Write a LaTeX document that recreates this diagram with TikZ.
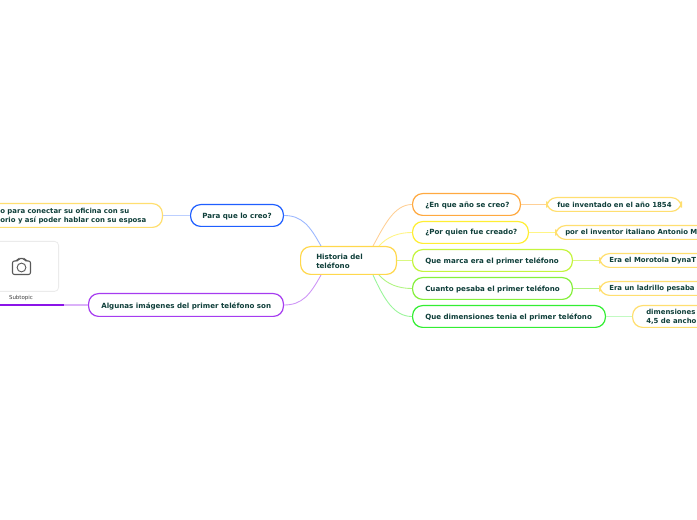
\documentclass[tikz,border=0pt]{standalone}
\usepackage{fontspec}
\setmainfont{DejaVu Sans}
\usetikzlibrary{calc}
\definecolor{txt}{HTML}{0F3F3A}
\definecolor{cRoot}{HTML}{FFD84D}
\definecolor{cAns}{HTML}{FFDF70}
\definecolor{cO}{HTML}{FFA940}
\definecolor{cY}{HTML}{FFEE33}
\definecolor{cL}{HTML}{C4F53D}
\definecolor{cG}{HTML}{86F03C}
\definecolor{cB}{HTML}{33EE33}
\definecolor{cBlue}{HTML}{1F5FFF}
\definecolor{cPur}{HTML}{A63CF0}
\definecolor{cDeep}{HTML}{8B14E8}
\tikzset{
  x=0.75pt,y=-0.75pt,
  topicbox/.style={draw=#1,line width=0.9pt,fill=white,rounded corners=7.5pt,inner sep=0pt,anchor=north west},
  link/.style={draw=#1,line width=0.65pt},
  thicklink/.style={draw=#1,line width=1.4pt},
}
\newcommand{\tbox}[6]{% name colour x1 y1 x2 y2
  \pgfmathsetmacro{\wdd}{(#5-#3)*0.75-0.9}\pgfmathsetmacro{\htt}{(#6-#4)*0.75-0.9}
  \node[topicbox=#2,minimum width=\wdd pt,minimum height=\htt pt] (#1) at (#3,#4) {};
}
\begin{document}
\begin{tikzpicture}
\useasboundingbox (0,0) rectangle (697,520);
\clip (0,0) rectangle (697,520);
\fill[white] (0,0) rectangle (697,520);
\tbox{root}{cRoot}{300}{246}{397}{275}
\tbox{q1}{cO}{412}{193}{521}{216}
\tbox{q2}{cY}{412}{221}{529}{244}
\tbox{q3}{cL}{412}{249}{573}{272}
\tbox{q4}{cG}{412}{277}{573}{300}
\tbox{q5}{cB}{412}{305}{606}{328}
\tbox{a1}{cAns}{546}{197}{682}{212}
\tbox{a2}{cAns}{555}{225}{730}{240}
\tbox{a3}{cAns}{599}{253}{730}{268}
\tbox{a4}{cAns}{599}{281}{730}{296}
\tbox{a5}{cAns}{632}{305}{730}{328}
\tbox{l1}{cBlue}{190}{204}{284}{227}
\tbox{a6}{cAns}{-40}{203}{163}{228}
\tbox{l2}{cPur}{88}{293}{284}{317}
\coordinate (rtn) at ($(root.north east)+(-24,0)$);
\coordinate (rtm) at ($(root.north east)+(-18,0)$);
\coordinate (rbm) at ($(root.south east)+(-18,0)$);
\coordinate (rbn) at ($(root.south east)+(-24,0)$);
\coordinate (ltn) at ($(root.north west)+(21,0)$);
\coordinate (lbn) at ($(root.south west)+(21,0)$);
\draw[link=cO!55] (rtn) .. controls ($(rtn)+(11,-20)$) and ($(q1.west)+(-18,0)$) .. (q1.west);
\draw[link=cY!60] (rtm) .. controls ($(rtm)+(8,-9)$) and ($(q2.west)+(-14,0)$) .. (q2.west);
\draw[link=cL!65] (root.east) -- (q3.west);
\draw[link=cG!65] (rbm) .. controls ($(rbm)+(8,9)$) and ($(q4.west)+(-14,0)$) .. (q4.west);
\draw[link=cB!50] (rbn) .. controls ($(rbn)+(11,24)$) and ($(q5.west)+(-18,0)$) .. (q5.west);
\draw[link=cBlue!45] (ltn) .. controls ($(ltn)+(-11,-20)$) and ($(l1.east)+(18,0)$) .. (l1.east);
\draw[link=cPur!55] (lbn) .. controls ($(lbn)+(-11,20)$) and ($(l2.east)+(18,0)$) .. (l2.east);
\draw[link=cO!55] (q1.east) -- (a1.west);
\draw[link=cY!60] (q2.east) -- (a2.west);
\draw[link=cL!65] (q3.east) -- (a3.west);
\draw[link=cG!65] (q4.east) -- (a4.west);
\draw[thicklink=cB!30] (q5.east) -- (a5.west);
\draw[thicklink=cBlue!30] (l1.west) -- (a6.east);
% image topic
\node[draw=black!8,line width=0.6pt,fill=white,rounded corners=3pt,minimum width=60pt,minimum height=37.5pt,inner sep=0pt,anchor=north east] (img) at (59,241) {};
\coordinate (cam) at (21.5,266.5);
\draw[black!65,line width=0.8pt,rounded corners=1.5pt] ($(cam)+(-9,-5.5)$) -- ($(cam)+(-4,-5.5)$) -- ($(cam)+(-3,-8)$) -- ($(cam)+(3,-8)$) -- ($(cam)+(4,-5.5)$) -- ($(cam)+(9,-5.5)$) -- ($(cam)+(9,8)$) -- ($(cam)+(-9,8)$) -- cycle;
\draw[black!65,line width=0.7pt] ($(cam)+(0,1)$) circle (4.4);
\node[anchor=center,inner sep=0pt,text=black!75,font=\fontsize{4.1}{6}\selectfont] (sub) at (21,298) {Subtopic};
\coordinate (pl) at (-5,305);
\coordinate (pm) at (64,305);
\draw[thicklink=cPur!40] (pm) -- (l2.west);
\draw[draw=cDeep,line width=1.1pt] (pl) -- (pm);
% texts
\tikzset{
  lab/.style={anchor=west,inner sep=0pt,text=txt,font=\bfseries\fontsize{5.33}{6.9}\selectfont,align=left},
  anslab/.style={anchor=west,inner sep=0pt,text=txt,font=\bfseries\fontsize{5.2}{6.9}\selectfont,align=left}}
\node[lab] (troot) at (316,261) {Historia del\\teléfono};
\node[lab] (t1) at (425,205) {¿En que año se creo?};
\node[lab] (t2) at (425,233) {¿Por quien fue creado?};
\node[lab] (t3) at (425,261) {Que marca era el primer teléfono};
\node[lab] (t4) at (425,289) {Cuanto pesaba el primer teléfono};
\node[lab] (t5) at (425,317) {Que dimensiones tenia el primer teléfono};
\node[lab] (t6) at (202,216.5) {Para que lo creo?};
\node[lab] (t7) at (101,306) {Algunas imágenes del primer teléfono son};
\node[anslab] (t8) at (557,205) {fue inventado en el año 1854};
\node[anslab] (t9) at (565,233) {por el inventor italiano Antonio M};
\node[anslab] (t10) at (609,261) {Era el Morotola DynaT};
\node[anslab] (t11) at (609,289) {Era un ladrillo pesaba};
\node[anslab] (t12) at (646,317) {dimensiones\\4,5 de ancho};
\node[anslab] (t13) at (0,216) {o para conectar su oficina con su\\orio y así poder hablar con su esposa};
\end{tikzpicture}
\end{document}
